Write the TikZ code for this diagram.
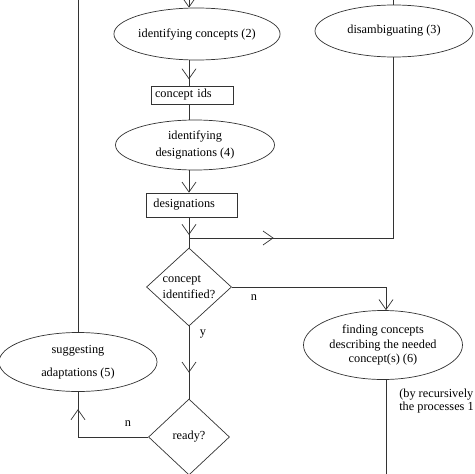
\documentclass[tikz,border=0pt]{standalone}
\usepackage{fontspec}
\setmainfont{Liberation Serif}
\usetikzlibrary{shapes, arrows.meta, positioning, decorations.markings}

\begin{document}
\begin{tikzpicture}[x=0.03cm, y=-0.03cm, line width=0.6pt, font=\fontsize{10.5}{14}\selectfont]
    \tikzstyle{process} = [draw=black!80, ellipse, inner sep=0pt, align=center];
    \tikzstyle{decision} = [draw=black!80, diamond, inner sep=0pt, align=left];
    \tikzstyle{store} = [draw=black!80, rectangle, inner sep=0pt, align=left];
    \tikzset{barb/.tip={Straight Barb[length=3mm, width=4.2mm]}}
    \tikzstyle{connector} = [draw=black!80, -barb];
    \tikzstyle{conn} = [draw=black!80, -];
    \tikzset{midarrow/.style={postaction={decorate}, decoration={markings,
        mark=at position #1 with {\arrow{barb}}}}}
    \useasboundingbox (0,0) rectangle (474,474);
    \clip (0,0) rectangle (474,474);

    \coordinate (top) at (189,-3);
    \coordinate (topleft) at (78,-3);
    \coordinate (topright) at (393,-3);
    \coordinate (bottomright) at (386,480);

    \node[process, minimum width=4.74cm, minimum height=1.56cm] at (197,34) (ident) {identifying concepts (2)};
    \node[process, minimum width=4.74cm, minimum height=1.56cm] at (394,31) (disamb) {disambiguating (3)};
    \node[store, minimum width=2.46cm, minimum height=0.54cm, text width=2.22cm] at (192,95) (cids) {concept ids};
    \node[process, minimum width=4.77cm, minimum height=1.5cm] at (195,145) (desig) {identifying\\designations (4)};
    \node[store, minimum width=2.73cm, minimum height=0.72cm, text width=2.31cm] at (192,205) (desigs) {designations};
    \coordinate (split) at (189,238);
    \node[decision, minimum width=2.55cm, minimum height=2.34cm] at (189,287) (identq) {concept\\identified?};
    \node[process, minimum width=4.77cm, minimum height=2.07cm] at (383,345) (finding) {finding concepts\\[-2pt]describing the needed\\[-2pt]concept(s) (6)};
    \node[process, minimum width=4.74cm, minimum height=1.77cm] at (78,362) (suggest) {suggesting\\[6pt]adaptations (5)};
    \node[decision, minimum width=2.43cm, minimum height=2.28cm] at (189,437) (readyq) {ready?};

    \node[anchor=west, align=left, font=\fontsize{10.5}{10.5}\selectfont] at (395,401) (recurse) {(by recursively\\the processes 1};
    \node at (254,298) (nfind) {n};
    \node at (203,334) (yready) {y};
    \node at (128,424) (nsuggest) {n};

    \path[connector] (top) -- (ident.north -| top);
    \path[conn, midarrow=0.75] (ident.south -| top) -- (cids.north -| top);
    \path[conn] (cids.south -| top) -- (desig.north -| top);
    \path[connector] (desig.south -| top) -- (desigs.north -| top);
    \path[conn, midarrow=0.58] (desigs.south -| top) -- (identq.north);
    \path[conn, midarrow=0.22] (split) -| (disamb.south -| topright);
    \path[conn] (topright) -- (disamb.north -| topright);
    \path[connector] (identq.east) -| (finding.north -| bottomright);
    \path[conn, midarrow=0.64] (identq.south) -- (readyq.north);
    \path[conn, midarrow=0.85] (readyq.west) -| (suggest.south);
    \path[conn] (topleft) -- (suggest.north);
    \path[conn] (finding.south -| bottomright) -- (bottomright);
\end{tikzpicture}
\end{document}
